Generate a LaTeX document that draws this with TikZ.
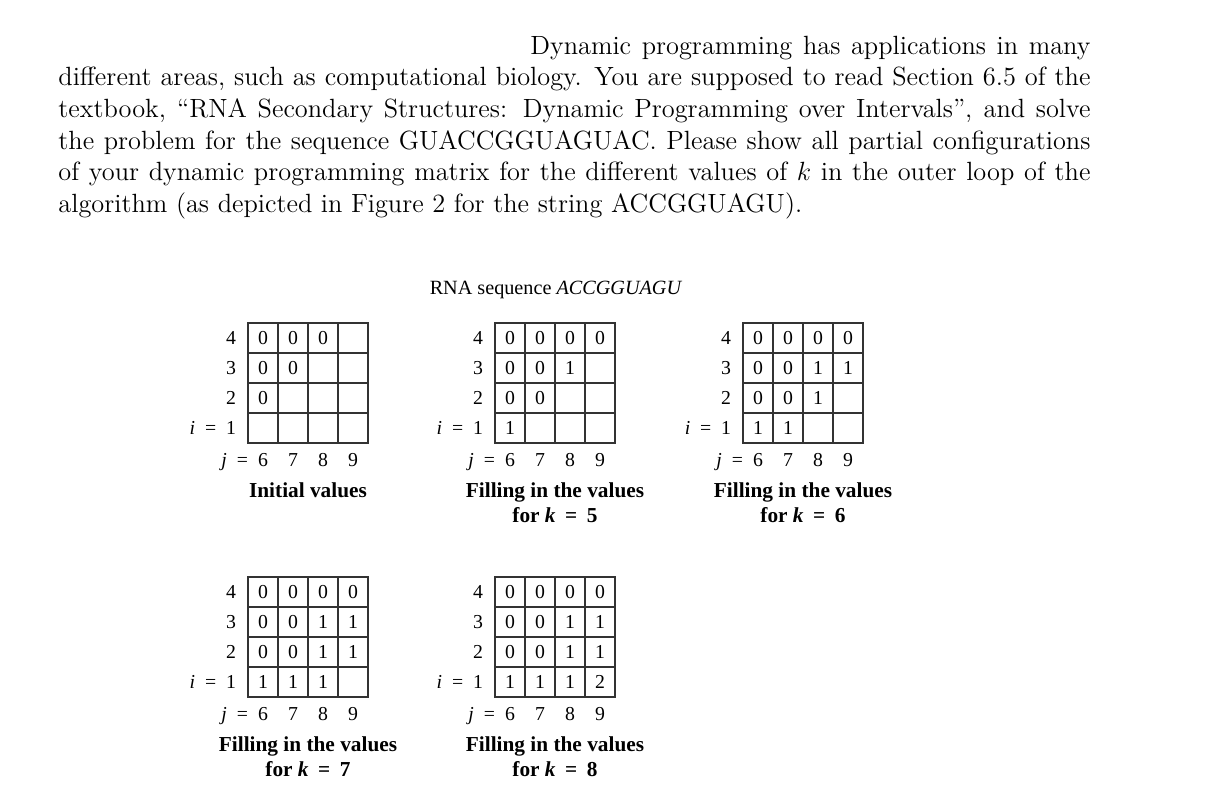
\documentclass[tikz,border=0pt]{standalone}
\usepackage{fontspec}
\usepackage{tikz}
\usetikzlibrary{positioning, calc}
\newfontfamily\figfont{Liberation Serif}

\begin{document}
\begin{tikzpicture}[
  x=0.4553pt, y=-0.4553pt,
  para/.style={anchor=north west, inner sep=0pt, text width=469.9pt, align=justify,
    font=\fontsize{12}{14.4}\selectfont},
  cell/.style={draw=black!80, line width=0.5pt, minimum size=13.66pt, inner sep=0pt,
    font=\figfont\fontsize{9}{10}\selectfont},
  rowlbl/.style={anchor=east, inner sep=0pt, font=\figfont\fontsize{9}{10}\selectfont},
  collbl/.style={anchor=base, inner sep=0pt, font=\figfont\fontsize{9}{10}\selectfont},
  caption/.style={anchor=north, align=center, inner sep=0pt,
    font=\figfont\bfseries\fontsize{9.7}{11.4}\selectfont}
]
  \useasboundingbox (0,0) rectangle (1232,792);

  \node[para] (task) at (58,35.5) {\noindent\hspace*{214.9pt}Dynamic programming has applications in many\linebreak
    different areas, such as computational biology. You are supposed to read Section 6.5 of the\linebreak
    textbook, ``RNA Secondary Structures: Dynamic Programming over Intervals'', and solve\linebreak
    the problem for the sequence GUACCGGUAGUAC. Please show all partial configurations\linebreak
    of your dynamic programming matrix for the different values of $k$ in the outer loop of the\linebreak
    algorithm (as depicted in Figure 2 for the string ACCGGUAGU).};

  \node[anchor=base, inner sep=0pt, font=\figfont\fontsize{9.2}{11}\selectfont] (title)
    at (556,294) {RNA sequence \textit{ACCGGUAGU}};

  % one matrix per stage of the outer loop
  \foreach \g/\gx/\gy/\cap/\vals in {
    a/248/323/{Initial values}/{0,0,0,{},0,0,{},{},0,{},{},{},{},{},{},{}},
    b/495/323/{Filling in the values\\for \textit{k}\hspace{.45em}=\hspace{.45em}5}/{0,0,0,0,0,0,1,{},0,0,{},{},1,{},{},{}},
    c/743/323/{Filling in the values\\for \textit{k}\hspace{.45em}=\hspace{.45em}6}/{0,0,0,0,0,0,1,1,0,0,1,{},1,1,{},{}},
    d/248/577/{Filling in the values\\for \textit{k}\hspace{.45em}=\hspace{.45em}7}/{0,0,0,0,0,0,1,1,0,0,1,1,1,1,1,{}},
    e/495/577/{Filling in the values\\for \textit{k}\hspace{.45em}=\hspace{.45em}8}/{0,0,0,0,0,0,1,1,0,0,1,1,1,1,1,2}} {
    \foreach \v [count=\n from 0, evaluate=\n as \ii using {int(4-floor(\n/4))},
                 evaluate=\n as \jj using {int(6+mod(\n,4))}] in \vals
      \node[cell] (\g-\ii-\jj) at ({\gx+15+30*mod(\n,4)},{\gy+15+30*floor(\n/4)}) {\v};

    \foreach \i in {4,3,2}
      \node[rowlbl] (\g-r\i) at ([xshift=-5pt]\g-\i-6.west) {\i};
    \node[rowlbl] (\g-r1) at ([xshift=-5pt]\g-1-6.west)
      {\textit{i}\hspace{.5em}=\hspace{.5em}1};

    \foreach \j in {6,...,9}
      \node[collbl] (\g-c\j) at ([yshift=-10.5pt]\g-1-\j.south) {\j};
    \node[collbl, anchor=base east] (\g-jl) at ([xshift=-4.2pt]\g-c6.base west)
      {\textit{j}\hspace{.5em}=};

    \node[caption] (\g-cap) at ({\gx+60},{\gy+159}) {\cap};
  }
\end{tikzpicture}
\end{document}
